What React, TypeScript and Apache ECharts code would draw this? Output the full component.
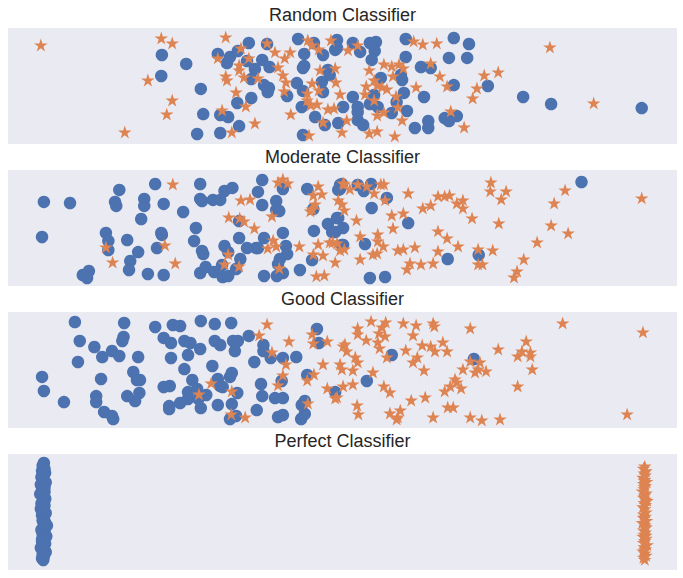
import React, { useEffect, useRef } from "react";
import * as echarts from "echarts";

// Each point is [predicted probability, vertical jitter]
const panelTitles = ["Random Classifier", "Moderate Classifier", "Good Classifier", "Perfect Classifier"];

const randomBlue = [
  [0.203,0.794],[0.243,0.709],[0.202,0.595],[0.267,0.472],[0.271,0.234],[0.261,0.045],[0.299,0.054],[0.299,0.225],[0.312,0.206],[0.330,0.120],[0.327,0.339],[0.350,0.386],[0.295,0.804],[0.310,0.718],[0.315,0.775],[0.328,0.832],[0.346,0.908],[0.376,0.898],[0.343,0.737],[0.356,0.661],[0.368,0.747],[0.380,0.680],[0.350,0.566],[0.371,0.509],[0.377,0.443],[0.379,0.481],[0.409,0.405],[0.427,0.946],[0.437,0.804],[0.435,0.671],[0.437,0.690],[0.425,0.528],[0.435,0.453],[0.433,0.301],[0.455,0.206],[0.435,0.035],[0.453,0.908],[0.468,0.794],[0.491,0.936],[0.488,0.842],[0.476,0.652],[0.479,0.604],[0.466,0.538],[0.468,0.443],[0.501,0.301],[0.493,0.149],[0.471,0.130],[0.491,0.861],[0.517,0.908],[0.529,0.823],[0.545,0.908],[0.555,0.917],[0.553,0.832],[0.548,0.747],[0.604,0.946],[0.604,0.775],[0.683,0.955],[0.708,0.898],[0.675,0.766],[0.705,0.766],[0.629,0.680],[0.645,0.671],[0.563,0.576],[0.596,0.604],[0.598,0.557],[0.517,0.396],[0.525,0.301],[0.525,0.253],[0.545,0.329],[0.552,0.415],[0.558,0.301],[0.589,0.348],[0.601,0.434],[0.634,0.396],[0.606,0.263],[0.581,0.244],[0.683,0.509],[0.739,0.500],[0.525,0.177],[0.534,0.130],[0.619,0.102],[0.641,0.168],[0.641,0.102],[0.668,0.196],[0.675,0.168],[0.688,0.215],[0.797,0.396],[0.843,0.329],[0.992,0.291],
];
const randomOrange = [
  [0.004,0.889],[0.202,0.955],[0.220,0.908],[0.308,0.965],[0.180,0.557],[0.220,0.367],[0.211,0.234],[0.142,0.064],[0.295,0.766],[0.333,0.861],[0.346,0.766],[0.376,0.908],[0.389,0.823],[0.405,0.766],[0.414,0.823],[0.330,0.699],[0.330,0.652],[0.308,0.595],[0.310,0.557],[0.338,0.585],[0.361,0.576],[0.394,0.680],[0.402,0.604],[0.407,0.538],[0.404,0.453],[0.325,0.443],[0.341,0.310],[0.302,0.272],[0.356,0.149],[0.318,0.064],[0.415,0.234],[0.443,0.936],[0.450,0.889],[0.461,0.851],[0.481,0.936],[0.463,0.652],[0.488,0.671],[0.489,0.538],[0.450,0.528],[0.461,0.462],[0.442,0.434],[0.442,0.367],[0.448,0.320],[0.458,0.329],[0.476,0.282],[0.486,0.291],[0.496,0.424],[0.468,0.158],[0.445,0.035],[0.499,0.064],[0.509,0.842],[0.525,0.889],[0.617,0.927],[0.632,0.898],[0.655,0.908],[0.544,0.652],[0.568,0.709],[0.581,0.690],[0.593,0.709],[0.600,0.671],[0.583,0.595],[0.645,0.718],[0.660,0.595],[0.552,0.557],[0.539,0.500],[0.557,0.509],[0.565,0.491],[0.573,0.472],[0.537,0.424],[0.588,0.405],[0.621,0.491],[0.672,0.500],[0.552,0.367],[0.591,0.301],[0.507,0.177],[0.557,0.225],[0.568,0.253],[0.598,0.177],[0.678,0.263],[0.544,0.054],[0.557,0.073],[0.586,0.026],[0.700,0.111],[0.733,0.604],[0.756,0.633],[0.721,0.481],[0.714,0.386],[0.841,0.870],[0.913,0.339],
];

const moderateBlue = [
  [0.009,0.747],[0.052,0.737],[0.006,0.415],[0.133,0.861],[0.192,0.917],[0.126,0.747],[0.128,0.709],[0.174,0.775],[0.174,0.709],[0.206,0.728],[0.169,0.585],[0.238,0.652],[0.111,0.453],[0.115,0.377],[0.115,0.291],[0.146,0.386],[0.164,0.272],[0.151,0.187],[0.149,0.102],[0.073,0.054],[0.083,0.092],[0.080,0.026],[0.180,0.064],[0.206,0.054],[0.202,0.453],[0.203,0.434],[0.195,0.310],[0.266,0.917],[0.266,0.775],[0.269,0.756],[0.287,0.766],[0.299,0.766],[0.306,0.851],[0.319,0.880],[0.368,0.955],[0.361,0.842],[0.368,0.718],[0.391,0.756],[0.391,0.671],[0.396,0.661],[0.259,0.500],[0.256,0.377],[0.269,0.282],[0.271,0.253],[0.330,0.566],[0.330,0.405],[0.306,0.329],[0.312,0.272],[0.332,0.206],[0.343,0.310],[0.358,0.310],[0.361,0.310],[0.371,0.405],[0.402,0.453],[0.407,0.329],[0.409,0.253],[0.397,0.206],[0.394,0.158],[0.430,0.102],[0.402,0.073],[0.392,0.045],[0.371,0.045],[0.266,0.073],[0.275,0.130],[0.289,0.083],[0.302,0.149],[0.303,0.035],[0.312,0.045],[0.325,0.111],[0.442,0.870],[0.453,0.472],[0.450,0.196],[0.476,0.538],[0.483,0.462],[0.491,0.595],[0.496,0.870],[0.499,0.917],[0.499,0.339],[0.402,0.870],[0.452,0.680],[0.496,0.908],[0.493,0.861],[0.525,0.908],[0.535,0.851],[0.547,0.917],[0.573,0.785],[0.548,0.690],[0.493,0.595],[0.501,0.500],[0.488,0.462],[0.608,0.547],[0.501,0.339],[0.537,0.348],[0.673,0.206],[0.724,0.244],[0.545,0.026],[0.570,0.035],[0.893,0.936],
];
const moderateOrange = [
  [0.221,0.917],[0.111,0.320],[0.122,0.177],[0.208,0.339],[0.225,0.168],[0.333,0.766],[0.348,0.775],[0.313,0.604],[0.331,0.595],[0.338,0.566],[0.355,0.500],[0.384,0.614],[0.394,0.936],[0.402,0.965],[0.410,0.927],[0.386,0.386],[0.377,0.310],[0.391,0.329],[0.429,0.329],[0.312,0.253],[0.306,0.158],[0.330,0.139],[0.396,0.120],[0.460,0.898],[0.466,0.823],[0.452,0.813],[0.455,0.728],[0.450,0.680],[0.447,0.661],[0.493,0.766],[0.499,0.728],[0.501,0.927],[0.460,0.348],[0.479,0.367],[0.484,0.367],[0.452,0.253],[0.468,0.244],[0.488,0.177],[0.496,0.291],[0.457,0.045],[0.470,0.054],[0.503,0.917],[0.512,0.870],[0.525,0.917],[0.540,0.898],[0.563,0.917],[0.568,0.917],[0.552,0.832],[0.570,0.766],[0.608,0.832],[0.503,0.671],[0.523,0.576],[0.581,0.623],[0.600,0.642],[0.583,0.500],[0.632,0.690],[0.645,0.718],[0.657,0.804],[0.668,0.804],[0.676,0.813],[0.688,0.737],[0.698,0.766],[0.698,0.690],[0.713,0.595],[0.744,0.936],[0.743,0.851],[0.769,0.851],[0.761,0.775],[0.757,0.547],[0.657,0.472],[0.672,0.405],[0.690,0.329],[0.657,0.282],[0.723,0.301],[0.747,0.291],[0.529,0.424],[0.558,0.443],[0.558,0.377],[0.567,0.329],[0.491,0.358],[0.503,0.301],[0.550,0.253],[0.557,0.263],[0.591,0.291],[0.600,0.301],[0.619,0.320],[0.529,0.206],[0.611,0.168],[0.606,0.111],[0.629,0.158],[0.649,0.168],[0.723,0.158],[0.730,0.158],[0.798,0.206],[0.787,0.092],[0.782,0.035],[0.820,0.367],[0.843,0.528],[0.871,0.453],[0.848,0.737],[0.866,0.861],[0.992,0.785],
];

const goodBlue = [
  [0.060,0.955],[0.068,0.775],[0.065,0.576],[0.006,0.434],[0.009,0.301],[0.042,0.196],[0.092,0.718],[0.105,0.623],[0.121,0.680],[0.133,0.633],[0.141,0.946],[0.140,0.813],[0.138,0.775],[0.164,0.623],[0.103,0.415],[0.156,0.481],[0.162,0.405],[0.167,0.405],[0.166,0.282],[0.146,0.253],[0.159,0.206],[0.095,0.253],[0.095,0.196],[0.108,0.102],[0.121,0.064],[0.123,0.035],[0.192,0.908],[0.221,0.927],[0.233,0.917],[0.206,0.804],[0.218,0.756],[0.218,0.614],[0.240,0.775],[0.250,0.756],[0.246,0.642],[0.266,0.699],[0.267,0.965],[0.290,0.936],[0.317,0.946],[0.290,0.775],[0.299,0.737],[0.320,0.775],[0.328,0.775],[0.323,0.680],[0.346,0.823],[0.240,0.509],[0.253,0.405],[0.206,0.339],[0.216,0.348],[0.246,0.291],[0.246,0.225],[0.261,0.320],[0.263,0.225],[0.276,0.263],[0.233,0.187],[0.215,0.158],[0.215,0.130],[0.267,0.139],[0.286,0.538],[0.295,0.415],[0.299,0.348],[0.303,0.339],[0.315,0.434],[0.318,0.472],[0.295,0.168],[0.318,0.177],[0.327,0.282],[0.315,0.035],[0.325,0.064],[0.355,0.576],[0.370,0.737],[0.370,0.680],[0.382,0.614],[0.402,0.614],[0.424,0.623],[0.366,0.367],[0.368,0.253],[0.359,0.120],[0.389,0.234],[0.402,0.234],[0.400,0.396],[0.394,0.054],[0.402,0.073],[0.432,0.035],[0.438,0.083],[0.433,0.168],[0.438,0.206],[0.442,0.453],[0.458,0.889],[0.461,0.756],[0.488,0.291],[0.581,0.642],[0.540,0.396],[0.716,0.604],
];
const goodOrange = [
  [0.284,0.377],[0.264,0.272],[0.318,0.301],[0.317,0.083],[0.340,0.054],[0.363,0.832],[0.376,0.936],[0.384,0.671],[0.412,0.775],[0.407,0.557],[0.402,0.453],[0.394,0.358],[0.443,0.187],[0.442,0.405],[0.453,0.462],[0.450,0.842],[0.452,0.756],[0.475,0.775],[0.468,0.557],[0.475,0.329],[0.488,0.234],[0.496,0.557],[0.499,0.509],[0.501,0.348],[0.501,0.728],[0.547,0.965],[0.571,0.955],[0.565,0.908],[0.560,0.851],[0.570,0.823],[0.558,0.766],[0.561,0.709],[0.525,0.898],[0.525,0.842],[0.600,0.946],[0.621,0.927],[0.649,0.946],[0.651,0.917],[0.710,0.898],[0.862,0.946],[0.994,0.861],[0.616,0.832],[0.539,0.785],[0.504,0.747],[0.507,0.680],[0.604,0.690],[0.631,0.737],[0.645,0.728],[0.652,0.680],[0.665,0.766],[0.672,0.680],[0.521,0.623],[0.525,0.576],[0.517,0.500],[0.573,0.623],[0.550,0.481],[0.623,0.623],[0.616,0.576],[0.634,0.500],[0.517,0.367],[0.491,0.244],[0.568,0.348],[0.578,0.291],[0.613,0.215],[0.636,0.244],[0.524,0.168],[0.526,0.083],[0.578,0.092],[0.595,0.120],[0.591,0.054],[0.589,0.035],[0.649,0.054],[0.673,0.149],[0.682,0.149],[0.668,0.301],[0.677,0.348],[0.685,0.415],[0.688,0.386],[0.695,0.329],[0.698,0.509],[0.710,0.585],[0.718,0.481],[0.723,0.509],[0.726,0.576],[0.736,0.491],[0.710,0.054],[0.729,0.026],[0.759,0.035],[0.756,0.699],[0.788,0.348],[0.788,0.633],[0.795,0.680],[0.802,0.775],[0.809,0.671],[0.809,0.633],[0.812,0.509],[0.968,0.083],
];

const perfectBlue = [
  [0.009,0.965],[0.007,0.94],[0.010,0.91],[0.006,0.89],[0.011,0.87],[0.008,0.85],[0.005,0.83],[0.009,0.80],[0.012,0.78],[0.004,0.76],[0.008,0.74],[0.006,0.71],[0.010,0.69],[0.003,0.67],[0.009,0.65],[0.011,0.62],[0.007,0.60],[0.005,0.58],[0.010,0.56],[0.004,0.53],[0.008,0.51],[0.012,0.49],[0.006,0.47],[0.009,0.44],[0.007,0.42],[0.011,0.40],[0.014,0.37],[0.008,0.35],[0.005,0.33],[0.010,0.31],[0.007,0.29],[0.013,0.27],[0.009,0.25],[0.006,0.22],[0.011,0.20],[0.008,0.18],[0.004,0.16],[0.010,0.14],[0.012,0.12],[0.007,0.10],[0.009,0.08],[0.006,0.06],[0.008,0.045],[0.010,0.73],[0.007,0.55],[0.009,0.38],[0.008,0.86],[0.006,0.24],[0.011,0.63],[0.008,0.13],
];
const perfectOrange = [
  [0.997,0.935],[0.995,0.915],[0.999,0.89],[0.996,0.87],[0.998,0.85],[0.994,0.83],[0.997,0.81],[1.000,0.79],[0.995,0.77],[0.998,0.75],[0.996,0.72],[0.993,0.70],[0.999,0.68],[0.997,0.66],[0.995,0.64],[1.001,0.61],[0.996,0.59],[0.998,0.57],[0.994,0.55],[0.997,0.53],[0.999,0.50],[0.995,0.48],[0.998,0.46],[0.996,0.44],[1.000,0.42],[0.993,0.40],[0.997,0.38],[0.999,0.36],[0.995,0.33],[0.998,0.31],[0.996,0.29],[0.994,0.27],[0.999,0.25],[0.997,0.23],[0.995,0.21],[1.001,0.19],[0.996,0.17],[0.998,0.15],[0.994,0.13],[0.997,0.11],[0.999,0.09],[0.995,0.07],[0.997,0.05],[0.996,0.80],[0.998,0.62],[0.995,0.45],[0.999,0.28],[0.997,0.14],[0.996,0.74],[0.998,0.35],
];

const negatives = [randomBlue, moderateBlue, goodBlue, perfectBlue];
const positives = [randomOrange, moderateOrange, goodOrange, perfectOrange];

const BLUE = "#4C72B0";
const ORANGE = "#DD8452";
const STAR =
  "path://M50 0 L61.23 34.55 L97.55 34.55 L68.17 55.9 L79.39 90.45 L50 69.1 L20.61 90.45 L31.83 55.9 L2.45 34.55 L38.77 34.55 Z";

export default function App() {
  const ref = useRef<HTMLDivElement>(null);

  useEffect(() => {
    if (!ref.current) return;
    const chart = echarts.init(ref.current, undefined, { renderer: "svg" });

    const panelTop = (i: number) => 28 + i * 142;
    const grids = panelTitles.map((_, i) => ({
      left: 8,
      width: 669,
      top: panelTop(i),
      height: 116,
      show: true,
      backgroundColor: "#EAEAF2",
      borderWidth: 0,
    }));
    const xAxes = panelTitles.map((_, i) => ({
      type: "value",
      gridIndex: i,
      min: -0.05,
      max: 1.05,
      show: false,
    }));
    const yAxes = panelTitles.map((_, i) => ({
      type: "value",
      gridIndex: i,
      min: -0.05,
      max: 1.05,
      show: false,
    }));

    const series: any[] = [];
    panelTitles.forEach((_, i) => {
      series.push({
        type: "scatter",
        xAxisIndex: i,
        yAxisIndex: i,
        data: negatives[i],
        symbol: "circle",
        symbolSize: 12.5,
        itemStyle: { color: BLUE, opacity: 1 },
        silent: true,
      });
      series.push({
        type: "scatter",
        xAxisIndex: i,
        yAxisIndex: i,
        data: positives[i],
        symbol: STAR,
        symbolSize: 13.5,
        symbolKeepAspect: true,
        itemStyle: { color: ORANGE, opacity: 1 },
        silent: true,
      });
    });

    const titles = panelTitles.map((t, i) => ({
      type: "text",
      x: 342.5,
      y: 15 + i * 142,
      silent: true,
      style: {
        text: t,
        fill: "#262626",
        fontSize: 18,
        fontFamily: '"Liberation Sans", Arial, sans-serif',
        align: "center",
        verticalAlign: "middle",
      },
    }));

    chart.setOption({
      animation: false,
      backgroundColor: "#ffffff",
      grid: grids,
      xAxis: xAxes,
      yAxis: yAxes,
      series,
      graphic: titles,
    });

    return () => chart.dispose();
  }, []);

  return (
    <div
      ref={ref}
      style={{ position: "fixed", left: 0, top: 0, width: 683, height: 578 }}
    />
  );
}
